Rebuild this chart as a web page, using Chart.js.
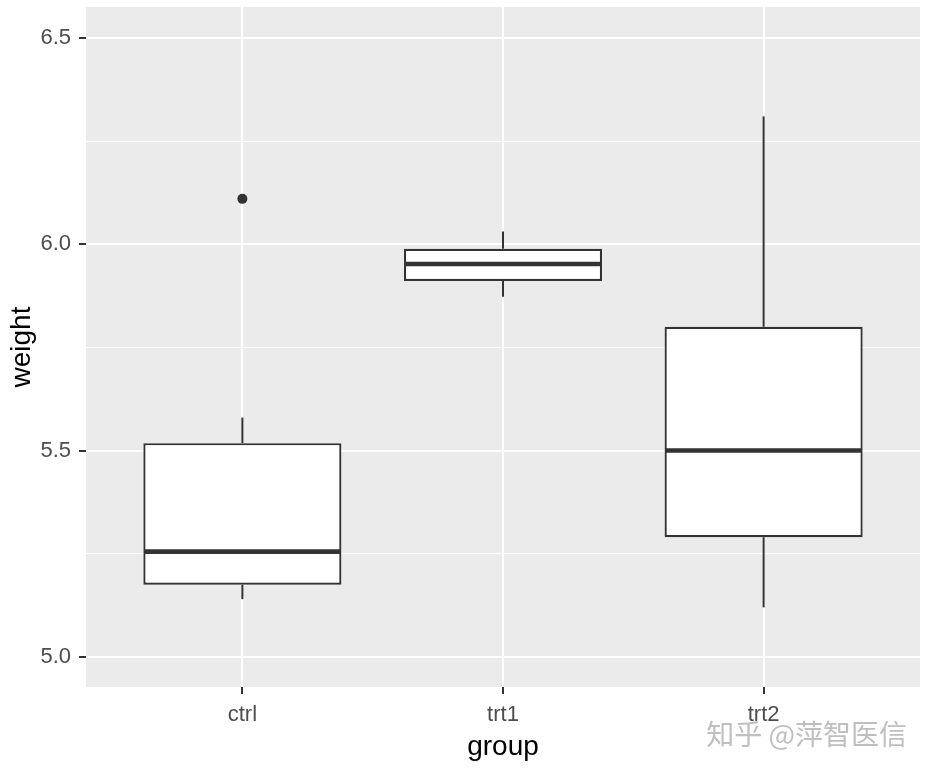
<!DOCTYPE html>
<html>
<head>
<meta charset="utf-8">
<script src="https://cdn.jsdelivr.net/npm/chart.js@4/dist/chart.umd.min.js"></script>
<style>
  body { margin: 0; background: #fff; }
  #wrap { width: 932px; height: 772px; }
</style>
</head>
<body>
<div id="wrap"><canvas id="boxChart" width="932" height="772"></canvas></div>
<script>
// 数据
const groups = ['ctrl', 'trt1', 'trt2'];
const whiskerLow = [5.14, 5.873, 5.12];
const q1 = [5.175, 5.911, 5.29];
const median = [5.255, 5.952, 5.50];
const q3 = [5.518, 5.989, 5.80];
const whiskerHigh = [5.58, 6.031, 6.31];
const outlierGroup = [0];
const outlierValue = [6.11];
const yMajorTicks = [5.0, 5.5, 6.0, 6.5];
const yMinorTicks = [5.25, 5.75, 6.25];

const FONT = "'Liberation Sans', Arial, sans-serif";
const INK = '#333333';

// 灰色绘图区背景
const panelBackground = {
  id: 'panelBackground',
  beforeDraw(chart) {
    const { ctx, chartArea: a } = chart;
    ctx.save();
    ctx.fillStyle = '#EBEBEB';
    ctx.fillRect(a.left, a.top, a.right - a.left, a.bottom - a.top);
    ctx.restore();
  }
};

// 须线和中位数
const boxExtras = {
  id: 'boxExtras',
  afterDatasetsDraw(chart) {
    const { ctx } = chart;
    const xs = chart.scales.x, ys = chart.scales.y;
    const bars = chart.getDatasetMeta(0).data;
    const seg = (x1, y1, x2, y2) => {
      ctx.beginPath();
      ctx.moveTo(x1, y1);
      ctx.lineTo(x2, y2);
      ctx.stroke();
    };
    ctx.save();
    ctx.strokeStyle = INK;
    ctx.lineCap = 'butt';
    groups.forEach((g, i) => {
      const cx = xs.getPixelForValue(i);
      ctx.lineWidth = 2;
      seg(cx, ys.getPixelForValue(q3[i]), cx, ys.getPixelForValue(whiskerHigh[i]));
      seg(cx, ys.getPixelForValue(q1[i]), cx, ys.getPixelForValue(whiskerLow[i]));
      const half = bars[i].width / 2 - 1;
      const my = ys.getPixelForValue(median[i]);
      ctx.lineWidth = 4.6;
      seg(cx - half, my, cx + half, my);
    });
    ctx.restore();
  }
};

// 水印
const watermark = {
  id: 'watermark',
  afterDraw(chart) {
    const { ctx } = chart;
    ctx.save();
    ctx.font = "28px 'Noto Sans CJK SC', sans-serif";
    ctx.textAlign = 'right';
    ctx.textBaseline = 'middle';
    ctx.fillStyle = 'rgba(255,255,255,0.8)';
    ctx.fillText('知乎 @萍智医信', 908, 735);
    ctx.fillStyle = 'rgba(175,175,175,0.8)';
    ctx.fillText('知乎 @萍智医信', 907, 734);
    ctx.restore();
  }
};

const isMajor = v => yMajorTicks.some(t => Math.abs(t - v) < 1e-9);

new Chart(document.getElementById('boxChart'), {
  type: 'bar',
  data: {
    datasets: [
      {
        type: 'bar',
        data: groups.map((g, i) => ({ x: i, y: [q1[i], q3[i]] })),
        backgroundColor: '#FFFFFF',
        borderColor: INK,
        borderWidth: 2.2,
        borderSkipped: false,
        barPercentage: 0.76,
        categoryPercentage: 1.0
      },
      {
        type: 'scatter',
        data: outlierGroup.map((gi, k) => ({ x: gi, y: outlierValue[k] })),
        backgroundColor: INK,
        borderColor: INK,
        pointRadius: 5,
        borderWidth: 0
      }
    ]
  },
  options: {
    responsive: false,
    animation: false,
    layout: { padding: { left: 0, top: 7, right: 12, bottom: 0 } },
    plugins: {
      legend: { display: false },
      tooltip: { enabled: false }
    },
    scales: {
      x: {
        type: 'linear',
        min: -0.6,
        max: 2.6,
        offset: false,
        afterBuildTicks: axis => { axis.ticks = groups.map((g, i) => ({ value: i })); },
        afterFit: axis => {
          axis.height = 85;
          axis.paddingLeft = 0;
          axis.paddingRight = 0;
        },
        ticks: {
          autoSkip: false,
          maxRotation: 0,
          padding: 8,
          color: '#4D4D4D',
          font: { family: FONT, size: 22 },
          callback: v => groups[v]
        },
        grid: {
          offset: false,
          color: '#FFFFFF',
          lineWidth: 2,
          tickColor: INK,
          tickWidth: 2,
          tickLength: 7
        },
        border: { display: false },
        title: {
          display: true,
          text: 'group',
          color: '#000000',
          font: { family: FONT, size: 28 },
          padding: { top: 0, bottom: 8 }
        }
      },
      y: {
        type: 'linear',
        min: 4.927,
        max: 6.575,
        afterBuildTicks: axis => {
          axis.ticks = yMajorTicks.concat(yMinorTicks).sort((a, b) => a - b).map(v => ({ value: v }));
        },
        afterFit: axis => {
          axis.width = 86;
          axis.paddingTop = 0;
          axis.paddingBottom = 0;
        },
        ticks: {
          autoSkip: false,
          padding: 8,
          color: '#4D4D4D',
          font: { family: FONT, size: 22 },
          callback: v => isMajor(v) ? v.toFixed(1) : ''
        },
        grid: {
          color: '#FFFFFF',
          lineWidth: c => isMajor(c.tick.value) ? 2 : 1,
          tickColor: c => isMajor(c.tick.value) ? INK : 'rgba(0,0,0,0)',
          tickWidth: 2,
          tickLength: 7
        },
        border: { display: false },
        title: {
          display: true,
          text: 'weight',
          color: '#000000',
          font: { family: FONT, size: 28 },
          padding: { top: 5, bottom: 0 }
        }
      }
    }
  },
  plugins: [panelBackground, boxExtras, watermark]
});
</script>
</body>
</html>
